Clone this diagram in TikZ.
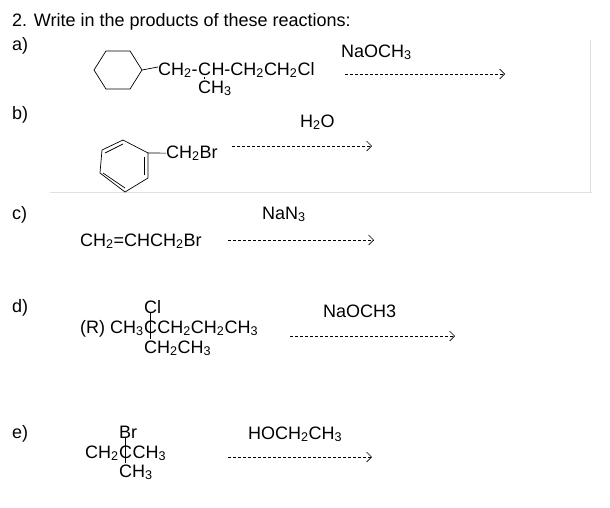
\documentclass[tikz,border=0pt]{standalone}
\usepackage{fontspec}
\setmainfont{Liberation Sans}
\usetikzlibrary{arrows.meta,calc}
\newcommand\sbs[1]{\textsubscript{#1}}
\begin{document}
\begin{tikzpicture}[x=1pt,y=-1pt,
  t/.style={inner sep=0pt,anchor=base west,font=\fontsize{18}{20}\selectfont},
  arr/.style={dashed,dash pattern=on 3pt off 2pt,-{Straight Barb[length=5pt]},line width=0.6pt},
  bond/.style={line width=0.7pt}]
\useasboundingbox (0,0) rectangle (610,507);
\draw[black!12,line width=1pt] (50,192) -- (592,192) (590,40) -- (590,192);
\node[t] (title) at (12,26) {2. Write in the products of these reactions:};
% a
\node[t] (la) at (12,50) {a)};
\foreach \i in {0,...,5}{\coordinate (h\i) at ({118+24*cos(60*\i)},{70+22*sin(60*\i)});}
\draw[bond] (h0)--(h1)--(h2)--(h3)--(h4)--(h5)--cycle;
\node[t] (a1) at (158,75) {CH\sbs{2}-};
\node[t] (a2) at (a1.base east) {C};
\node[t] (a3) at (a2.base east) {H-CH\sbs{2}CH\sbs{2}Cl};
\node[t] (a4) at ([yshift=-18]a2.base west) {CH\sbs{3}};
\draw[bond] (h0) -- (158,67);
\draw[bond] ([yshift=-2]a2.south) -- ([yshift=1]a4.north -| a2.south);
\node[t] (ra) at (341,57) {NaOCH\sbs{3}};
\coordinate (a5) at (345,74); \coordinate (a6) at (505,74);
\draw[arr] (a5) -- (a6);
% b
\node[t] (lb) at (12,119) {b)};
\node[t] (rb) at (300,127) {H\sbs{2}O};
\coordinate (b1) at (123,140); \coordinate (b2) at (102,150); \coordinate (b3) at (100,173);
\coordinate (b4) at (125,192); \coordinate (b5) at (148,178); \coordinate (b6) at (148,153);
\draw[bond] (b1)--(b2)--(b3)--(b4)--(b5)--(b6)--cycle;
\draw[bond] ($(b1)+(0,4)$) -- ($(b2)+(3,3)$);
\draw[bond] (144,157) -- (144,175);
\draw[bond] ($(b3)+(3,0)$) -- ($(b4)+(0,-4)$);
\node[t] (b7) at (166,158) {CH\sbs{2}Br};
\draw[bond] (b6) -- (b7.west);
\coordinate (b8) at (232,146); \coordinate (b9) at (372,146);
\draw[arr] (b8) -- (b9);
% c
\node[t] (lc) at (12,219) {c)};
\node[t] (rc) at (262,219) {NaN\sbs{3}};
\node[t] (c1) at (80,246) {CH\sbs{2}=CHCH\sbs{2}Br};
\coordinate (c2) at (228,240); \coordinate (c3) at (374,240);
\draw[arr] (c2) -- (c3);
% d
\node[t] (ld) at (12,312) {d)};
\node[t] (d1) at (80,333) {(R) CH\sbs{3}};
\node[t] (d2) at (d1.base east) {C};
\node[t] (d3) at (d2.base east) {CH\sbs{2}CH\sbs{2}CH\sbs{3}};
\node[t] (d4) at ([yshift=20]d2.base west) {Cl};
\node[t] (d5) at ([yshift=-20]d2.base west) {CH\sbs{2}CH\sbs{3}};
\draw[bond] (d4.south -| d2.north) -- ([yshift=-3]d2.south);
\draw[bond] ([yshift=-2]d2.south) -- ([yshift=1]d5.north -| d2.south);
\node[t] (rd) at (323,317) {NaOCH3};
\coordinate (d6) at (290,336); \coordinate (d7) at (455,336);
\draw[arr] (d6) -- (d7);
% e
\node[t] (le) at (12,438) {e)};
\node[t] (e1) at (85,458) {CH\sbs{2}};
\node[t] (e2) at (e1.base east) {C};
\node[t] (e3) at (e2.base east) {CH\sbs{3}};
\node[t] (e4) at ([yshift=20]e2.base west) {Br};
\node[t] (e5) at ([yshift=-19]e2.base west) {CH\sbs{3}};
\draw[bond] (e4.south -| e2.north) -- ([yshift=-3]e2.south);
\draw[bond] ([yshift=-2]e2.south) -- ([yshift=1]e5.north -| e2.south);
\node[t] (re) at (248,439) {HOCH\sbs{2}CH\sbs{3}};
\coordinate (e6) at (228,457); \coordinate (e7) at (372,457);
\draw[arr] (e6) -- (e7);
\end{tikzpicture}
\end{document}
